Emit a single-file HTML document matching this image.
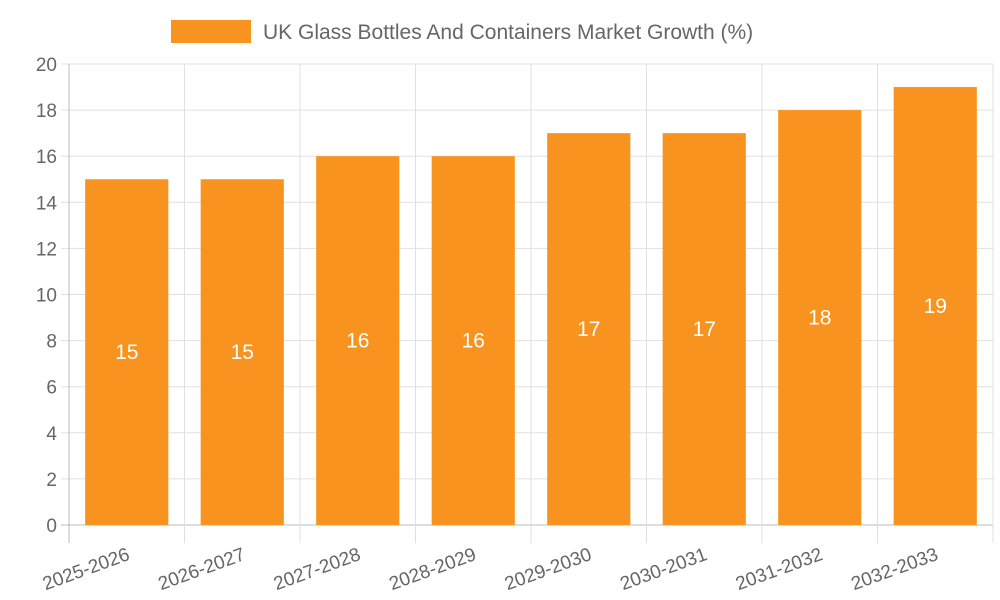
<!DOCTYPE html>
<html><head><meta charset="utf-8"><style>
body{margin:0;background:#fff;}
svg{display:block;font-family:"Liberation Sans",sans-serif;}
</style></head><body>
<svg id="c" width="1000" height="600"></svg>
<script>
const categories=["2025-2026","2026-2027","2027-2028","2028-2029","2029-2030","2030-2031","2031-2032","2032-2033"];
const values=[15,15,16,16,17,17,18,19];
const yTicks=[0,2,4,6,8,10,12,14,16,18,20];
const NS="http://www.w3.org/2000/svg";
const svg=document.getElementById('c');
const L=69,R=993,T=64,B=525,yMax=20;
const y=v=>B-(v/yMax)*(B-T);
const cw=(R-L)/categories.length;
const x=i=>L+cw*i;
function mk(t,a,p){const e=document.createElementNS(NS,t);for(const k in a)e.setAttribute(k,a[k]);(p||svg).appendChild(e);return e;}
const grid=mk('g',{});


yTicks.forEach(v=>{
  mk('line',{x1:L-8,x2:R,y1:y(v),y2:y(v),stroke:v===0?'#bbb':'#e0e0e0','stroke-width':1},grid);
  const t=mk('text',{x:L-12,y:y(v)+7,'text-anchor':'end','font-size':19,fill:'#666'});
  
  
  t.textContent=v;
});
for(let i=0;i<=categories.length;i++){
  mk('line',{x1:x(i),x2:x(i),y1:T,y2:B+18,stroke:i===0?'#bbb':'#e0e0e0','stroke-width':1},grid);
}
categories.forEach((c,i)=>{
  const bw=cw*0.72,bx=x(i)+(cw-bw)/2;
  const r=mk('rect',{x:bx,y:y(values[i]),width:bw,height:B-y(values[i]),fill:'#f7931e'});
  
  
  const vt=mk('text',{x:x(i)+cw/2,y:(y(values[i])+B)/2+7,'text-anchor':'middle','font-size':21,fill:'#fff'});
  
  
  vt.textContent=values[i];
  const cx=x(i)+cw/2,cy=B+23;
  const lt=mk('text',{x:cx,y:cy,'text-anchor':'end','font-size':19,fill:'#666',transform:`rotate(-20 ${cx} ${cy}) translate(0 12)`});
  
  
  lt.textContent=c;
});
const lg=mk('g',{});


mk('rect',{x:171,y:20,width:80,height:23,fill:'#f7931e'},lg);
const lt=mk('text',{x:263,y:39,'font-size':21,fill:'#666'},lg);
lt.textContent='UK Glass Bottles And Containers Market Growth (%)';
</script>
</body></html>
